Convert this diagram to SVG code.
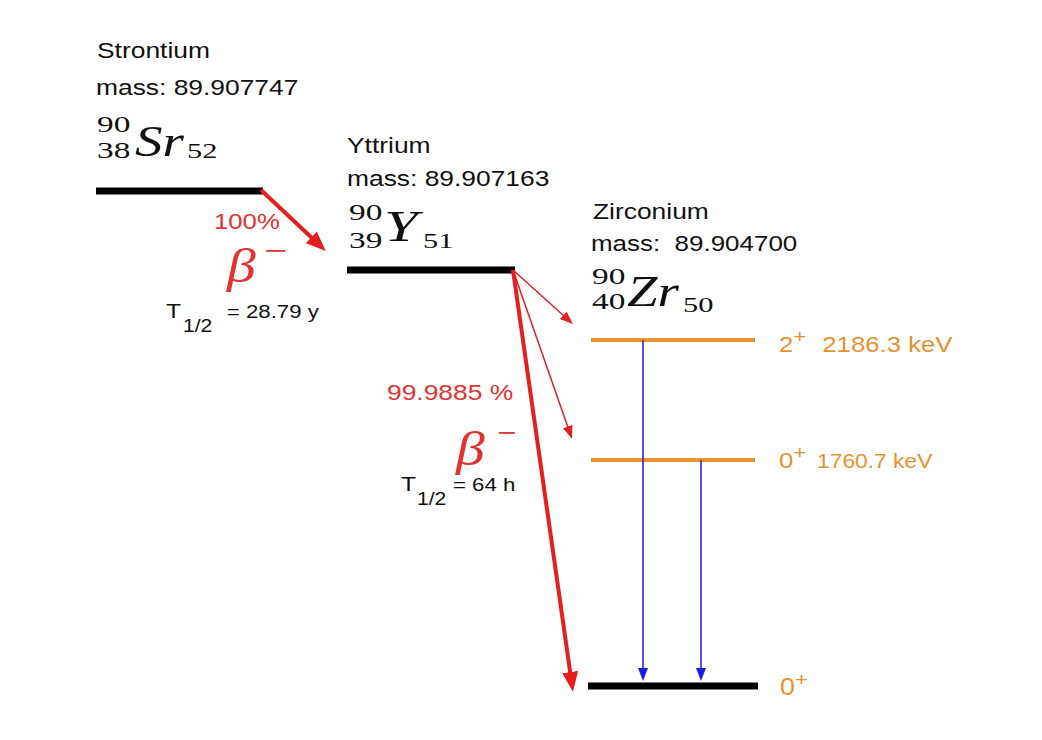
<svg xmlns="http://www.w3.org/2000/svg" width="1042" height="740" viewBox="0 0 1042 740">
<style>
.s{font-family:"Liberation Sans",Arial,sans-serif;}
.m{font-family:"Liberation Serif","Times New Roman",serif;}
.i{font-style:italic;}
.k{fill:#111;}
.r{fill:#e2312f;}
.o{fill:#e8922e;}
.lvl{stroke:#000;stroke-width:7;}
.ex{stroke:#e8922e;stroke-width:4;}
.rt{stroke:#e61e1e;stroke-width:4;fill:none;}
.rn{stroke:#e61e1e;stroke-width:1.5;fill:none;}
.bl{stroke:#1c1ce8;stroke-width:1.5;fill:none;}
</style>
<defs>
<marker id="ab" markerUnits="userSpaceOnUse" markerWidth="20" markerHeight="16" refX="1" refY="8" orient="auto"><path d="M0,0 L20,8 L0,16 z" fill="#e61e1e"/></marker>
<marker id="as" markerUnits="userSpaceOnUse" markerWidth="13" markerHeight="10" refX="1" refY="5" orient="auto"><path d="M0,0 L13,5 L0,10 z" fill="#e61e1e"/></marker>
<marker id="ac" markerUnits="userSpaceOnUse" markerWidth="13" markerHeight="10" refX="1" refY="5" orient="auto"><path d="M0,0 L13,5 L0,10 z" fill="#1c1ce8"/></marker>
</defs>
<rect width="1042" height="740" fill="#fff"/>

<g id="sr90">
<text class="s k" font-size="22" transform="translate(97,58) scale(1.2,1)">Strontium</text>
<text class="s k" font-size="22" transform="translate(96,95) scale(1.2,1)">mass: 89.907747</text>
<text class="m k" font-size="23" transform="translate(97,132) scale(1.45,1)">90</text>
<text class="m k" font-size="23" transform="translate(97,158) scale(1.45,1)">38</text>
<text class="m i k" font-size="44" transform="translate(135,156) scale(1.25,1)">Sr</text>
<text class="m k" font-size="21" transform="translate(187,158) scale(1.45,1)">52</text>
<line class="lvl" x1="96" y1="191" x2="263" y2="191"/>
</g>

<g id="y90">
<text class="s k" font-size="22" transform="translate(347,153) scale(1.2,1)">Yttrium</text>
<text class="s k" font-size="22" transform="translate(347,186) scale(1.2,1)">mass: 89.907163</text>
<text class="m k" font-size="23" transform="translate(349,220) scale(1.45,1)">90</text>
<text class="m k" font-size="23" transform="translate(349,248) scale(1.45,1)">39</text>
<text class="m i k" font-size="45" transform="translate(384,241) scale(1.35,1)">Y</text>
<text class="m k" font-size="21" transform="translate(423,248) scale(1.45,1)">51</text>
<line class="lvl" x1="347" y1="270" x2="515" y2="270"/>
</g>

<g id="zr90">
<text class="s k" font-size="22" transform="translate(593,219) scale(1.2,1)">Zirconium</text>
<text class="s k" font-size="22" xml:space="preserve" transform="translate(591,251) scale(1.18,1)">mass:  89.904700</text>
<text class="m k" font-size="23" transform="translate(592,284) scale(1.45,1)">90</text>
<text class="m k" font-size="23" transform="translate(592,309) scale(1.45,1)">40</text>
<text class="m i k" font-size="45" transform="translate(627,306) scale(1.22,1)">Zr</text>
<text class="m k" font-size="21" transform="translate(683,312) scale(1.45,1)">50</text>
</g>

<g id="zr-2plus">
<line class="ex" x1="591" y1="340" x2="755" y2="340"/>
<text class="s o" font-size="22" transform="translate(779,352) scale(1.17,1)">2<tspan font-size="19" dy="-9">+</tspan><tspan x="37" dy="9">2186.3 keV</tspan></text>
</g>

<g id="zr-0plus">
<line class="ex" x1="591" y1="460" x2="755" y2="460"/>
<text class="s o" font-size="22" transform="translate(779,468) scale(1.17,1)">0<tspan font-size="19" dy="-9">+</tspan><tspan x="32.5" dy="9" font-size="19.5">1760.7 keV</tspan></text>
</g>

<g id="zr-ground">
<line class="lvl" x1="588" y1="686" x2="758" y2="686"/>
<text class="s o" font-size="23" transform="translate(780,695) scale(1.17,1)">0<tspan font-size="19" dy="-9">+</tspan></text>
</g>

<g id="decay-labels">
<text class="s r" font-size="22" transform="translate(214,229) scale(1.17,1)">100%</text>
<text class="m i r" font-size="48" transform="translate(227,282) scale(1.2,1)">β</text>
<text class="m r" font-size="34" transform="translate(264,262) scale(1.2,1)">−</text>
<text class="s k" font-size="21" transform="translate(166,318) scale(1.17,1)">T<tspan x="14.5" dy="14" font-size="18">1/2</tspan><tspan x="52" dy="-14" font-size="19">= 28.79 y</tspan></text>

<text class="s r" font-size="22" transform="translate(387,400) scale(1.2,1)">99.9885 %</text>
<text class="m i r" font-size="48" transform="translate(456,465) scale(1.2,1)">β</text>
<text class="m r" font-size="34" transform="translate(497,444) scale(1.0,1)">−</text>
<text class="s k" font-size="21" transform="translate(401,491) scale(1.17,1)">T<tspan x="13.7" dy="14" font-size="18">1/2</tspan><tspan x="44.4" dy="-14" font-size="19">= 64 h</tspan></text>
</g>

<g id="connectors">
<line class="rt" x1="261" y1="190" x2="312" y2="238" marker-end="url(#ab)"/>
<line class="rt" x1="513" y1="270" x2="570.3" y2="673" marker-end="url(#ab)"/>
<line class="rn" x1="513" y1="270" x2="564" y2="316" marker-end="url(#as)"/>
<line class="rn" x1="513" y1="270" x2="568" y2="427.5" marker-end="url(#as)"/>
<line class="bl" x1="643" y1="340" x2="643" y2="669" marker-end="url(#ac)"/>
<line class="bl" x1="701" y1="460" x2="701" y2="669" marker-end="url(#ac)"/>
</g>
</svg>
